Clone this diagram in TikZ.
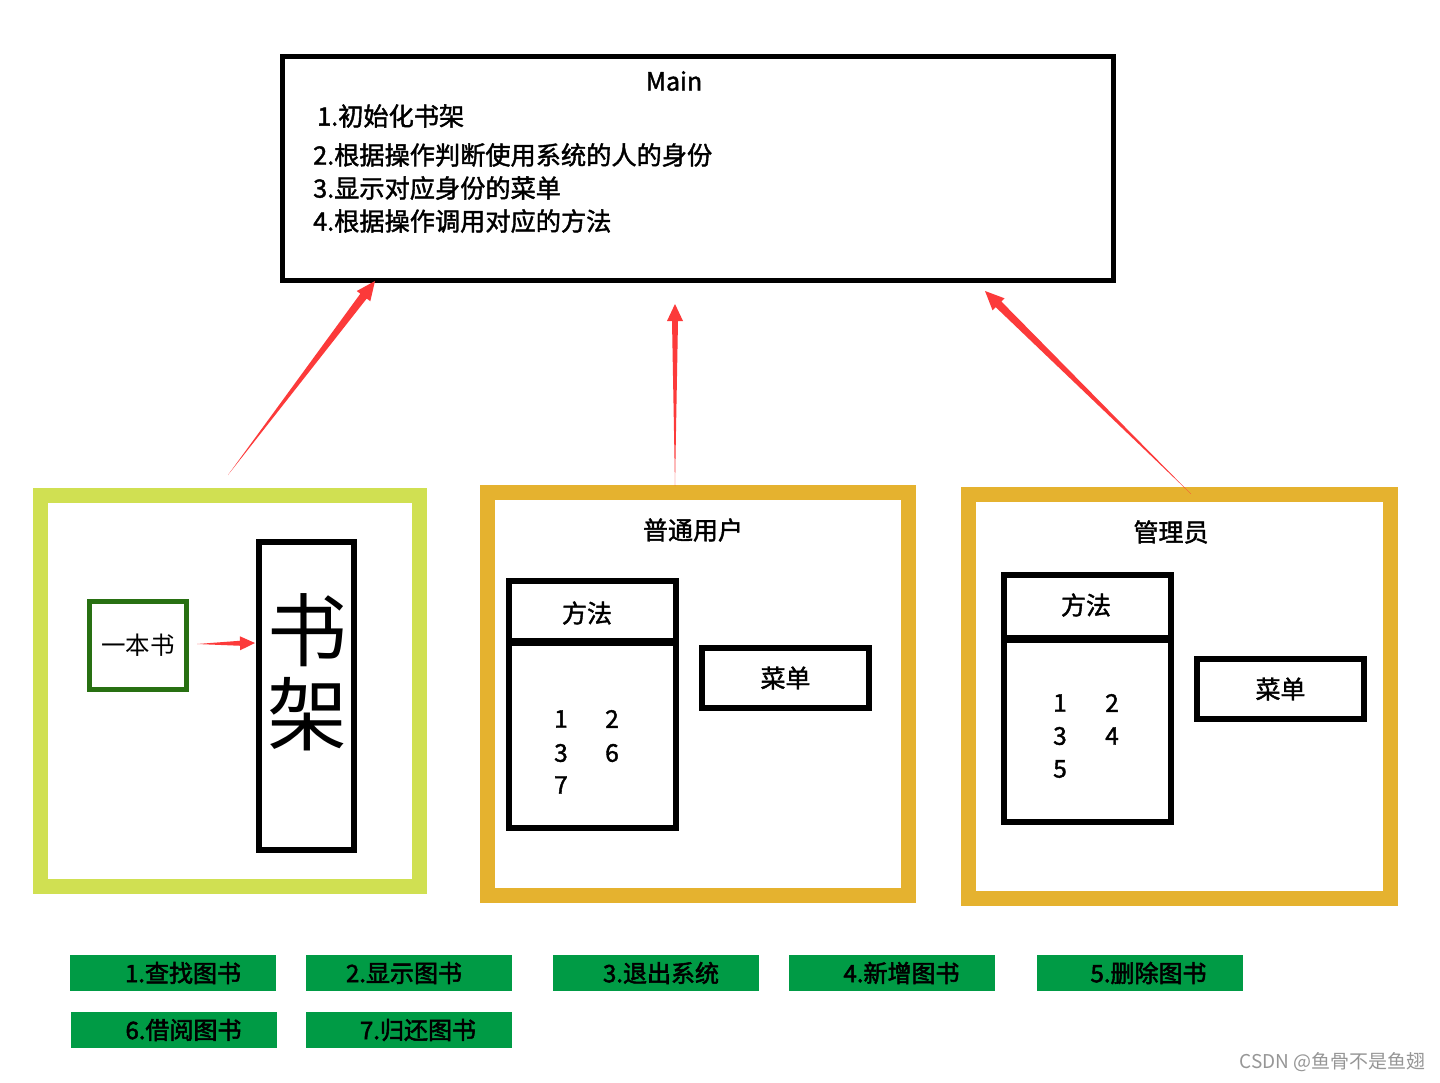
\documentclass[tikz,border=0pt]{standalone}
\usepackage{fontspec}
\setmainfont{Noto Sans CJK SC}
\newfontfamily\medfont[FakeBold=1.6]{Noto Sans CJK SC}
\newfontfamily\boldfont[FakeBold=2.2]{Noto Sans CJK SC}
\usetikzlibrary{calc}
\definecolor{arrowred}{RGB}{252,58,58}
\definecolor{framegreen}{RGB}{208,224,82}
\definecolor{frameorange}{RGB}{229,178,47}
\definecolor{bookgreen}{RGB}{40,112,18}
\definecolor{btngreen}{RGB}{0,155,69}
\definecolor{wmgray}{RGB}{150,150,150}
\newcommand{\tarrow}[5]{%
  \coordinate (tn) at ($(#2)!#5pt!(#1)$);
  \fill[arrowred] (#1) -- ($(tn)!#3pt!90:(#2)$) -- ($(tn)!#4pt!90:(#2)$) -- (#2)
     -- ($(tn)!#4pt!-90:(#2)$) -- ($(tn)!#3pt!-90:(#2)$) -- cycle;}
\begin{document}
\begin{tikzpicture}[x=1pt,y=-1pt,
  txt/.style={font=\medfont\fontsize{25}{28}\selectfont, inner sep=0pt},
  listtxt/.style={font=\medfont\fontsize{25.2}{28}\selectfont, inner sep=0pt, anchor=west},
  numtxt/.style={font=\medfont\fontsize{24.5}{28}\selectfont, inner sep=0pt},
  frame/.style={draw=#1, line width=15pt, inner sep=0pt},
  blackbox/.style={draw=black, line width=6pt, inner sep=0pt, minimum width=167pt},
  btn/.style={fill=btngreen, inner sep=0pt, minimum width=206pt, minimum height=36pt,
              font=\boldfont\fontsize{24}{28}\selectfont}
]
\useasboundingbox[fill=white] (0,0) rectangle (1440,1082);

% Main box
\node[draw=black, line width=5pt, inner sep=0pt, minimum width=831pt, minimum height=224pt] (main) at (697.5,168) {};
\node[txt] (maintitle) at (674,81) {Main};
\node[listtxt] (m1) at (317,116) {1.初始化书架};
\node[listtxt] (m2) at (313,155) {2.根据操作判断使用系统的人的身份};
\node[listtxt] (m3) at (313,188) {3.显示对应身份的菜单};
\node[listtxt] (m4) at (313,221) {4.根据操作调用对应的方法};

% Left frame: book and shelf
\node[frame=framegreen, minimum width=379pt, minimum height=391pt] (shelfarea) at (230,691) {};
\node[draw=bookgreen, line width=5pt, inner sep=0pt, minimum width=97pt, minimum height=88pt,
      font=\fontsize{24.5}{28}\selectfont] (book) at (138,645.5) {一本书};
\node[draw=black, line width=6pt, inner sep=0pt, minimum width=95pt, minimum height=308pt] (shelf) at (306.5,696) {};
\node[font=\fontsize{80}{84}\selectfont, align=center, inner sep=0pt] (shelftext) at (307,672) {书\\架};

% Ordinary user frame
\node[frame=frameorange, minimum width=421pt, minimum height=403pt] (user) at (698,694) {};
\node[txt] (usertitle) at (693,530) {普通用户};
\node[blackbox, minimum height=247pt] (um) at (592.5,704.5) {};
\draw[line width=8pt] ($(um.north west)+(0,64)$) -- ($(um.north east)+(0,64)$);
\node[txt] (umt) at (587,613) {方法};
\node[numtxt] (u1) at (561,719) {1};
\node[numtxt] (u2) at (612,719) {2};
\node[numtxt] (u3) at (561,753) {3};
\node[numtxt] (u6) at (612,753) {6};
\node[numtxt] (u7) at (561,785) {7};
\node[blackbox, minimum height=60pt, font=\medfont\fontsize{25}{28}\selectfont] (umenu) at (785.5,678) {菜单};

% Admin frame
\node[frame=frameorange, minimum width=422pt, minimum height=404pt] (admin) at (1179.5,696.5) {};
\node[txt] (admintitle) at (1171,532) {管理员};
\node[blackbox, minimum height=247pt] (am) at (1087.5,698.5) {};
\draw[line width=8pt] ($(am.north west)+(0,67)$) -- ($(am.north east)+(0,67)$);
\node[txt] (amt) at (1086,605) {方法};
\node[numtxt] (a1) at (1060,703) {1};
\node[numtxt] (a2) at (1112,703) {2};
\node[numtxt] (a3) at (1060,736) {3};
\node[numtxt] (a4) at (1112,736) {4};
\node[numtxt] (a5) at (1060,769) {5};
\node[blackbox, minimum height=60pt, font=\medfont\fontsize{25}{28}\selectfont] (amenu) at (1280.5,689) {菜单};

% Arrows
\coordinate (t1) at (228,475);
\coordinate (h1) at (375,281);
\coordinate (t2) at (675,486);
\coordinate (h2) at (675,304);
\coordinate (t3) at (1191,494);
\coordinate (h3) at (985,291);
\coordinate (tb) at (197,644);
\coordinate (hb) at (255,643);
\tarrow{t1}{h1}{4}{8.5}{19}
\tarrow{t2}{h2}{3}{8}{17}
\tarrow{t3}{h3}{4}{8.5}{19}
\tarrow{tb}{hb}{2.5}{7}{15}

% Buttons
\node[btn] (b1) at (173,973) {\hspace*{20pt}1.查找图书};
\node[btn] (b2) at (409,973) {2.显示图书\hspace*{10pt}};
\node[btn] (b3) at (656,973) {\hspace*{10pt}3.退出系统};
\node[btn] (b4) at (892,973) {\hspace*{19pt}4.新增图书};
\node[btn] (b5) at (1140,973) {\hspace*{17pt}5.删除图书};
\node[btn] (b6) at (174,1030) {\hspace*{19pt}6.借阅图书};
\node[btn] (b7) at (409,1030) {\hspace*{18pt}7.归还图书};

% Watermark
\node[font=\fontsize{19}{22}\selectfont, text=wmgray, inner sep=0pt, anchor=east] (wm) at (1426,1062) {CSDN @鱼骨不是鱼翅};
\end{tikzpicture}
\end{document}
